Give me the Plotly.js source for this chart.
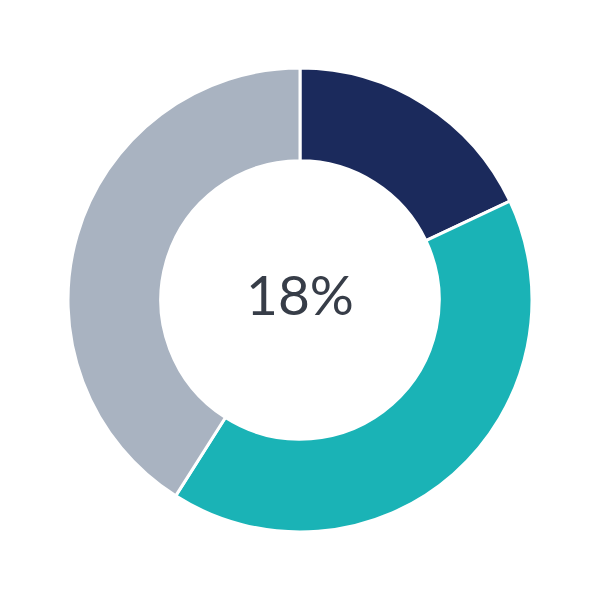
<!DOCTYPE html>
<html>
<head>
<meta charset="utf-8">
<script src="https://cdn.plot.ly/plotly-3.0.1.min.js"></script>
<style>
  html, body { margin: 0; padding: 0; background: #fff; }
  #chart { width: 600px; height: 600px; }
</style>
</head>
<body>
<div id="chart"></div>
<script>
var labels = ["Segment A", "Segment B", "Segment C"];
var values = [18, 41, 41];
var colors = ["#1b2a5c", "#1ab3b6", "#a9b3c1"];
var centerText = "18%";

var trace = {
    type: 'pie',
    labels: labels,
    values: values,
    hole: 0.6,
    sort: false,
    direction: 'clockwise',
    rotation: 0,
    textinfo: 'none',
    hoverinfo: 'label+percent',
    marker: {
        colors: colors,
        line: { color: '#ffffff', width: 3 }
    }
};

var layout = {
    width: 600,
    height: 600,
    margin: { l: 68, r: 68, t: 68, b: 68 },
    showlegend: false,
    paper_bgcolor: '#ffffff',
    annotations: [{
        text: centerText,
        x: 0.5, y: 0.512,
        xref: 'paper', yref: 'paper',
        showarrow: false,
        font: { family: 'Lato, sans-serif', size: 55, color: '#373d48' }
    }]
};

Plotly.newPlot('chart', [trace], layout, { displayModeBar: false, staticPlot: true });
</script>
</body>
</html>
